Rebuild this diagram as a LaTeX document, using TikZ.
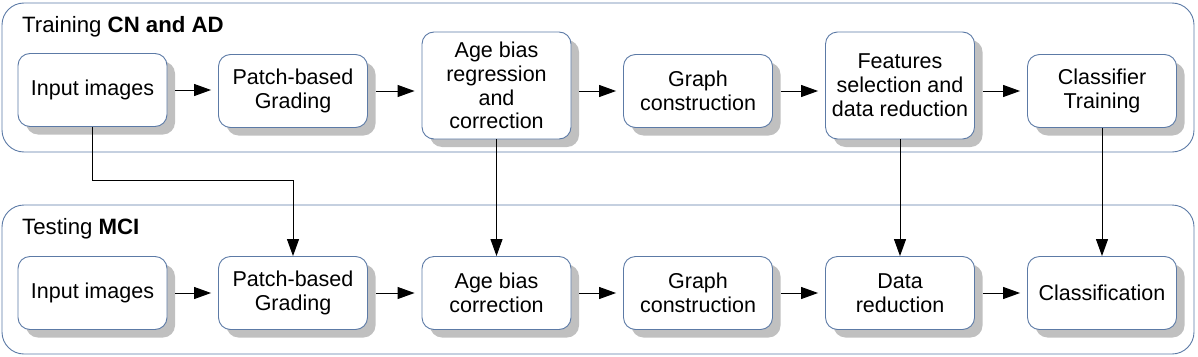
\documentclass[tikz,border=0pt]{standalone}
\usepackage{fontspec}
\setmainfont{Liberation Sans}
\usetikzlibrary{arrows.meta,shadows}
\definecolor{edgeblue}{RGB}{92,122,166}
\definecolor{shadowgray}{RGB}{192,192,192}
\tikzset{
  container/.style={draw=edgeblue, line width=0.9pt, rounded corners=22pt},
  stepbox/.style={draw=edgeblue, line width=0.9pt, rounded corners=12pt, fill=white,
    align=center, inner sep=0pt, minimum width=149pt,
    font=\fontsize{21.5}{23.8}\selectfont,
    drop shadow={shadow xshift=8pt, shadow yshift=-8pt, fill=shadowgray, opacity=1}},
  short/.style={minimum height=73pt},
  tall/.style={minimum height=107pt},
  arr/.style={line width=1pt, -{Triangle[length=17pt,width=12pt]}},
  harr/.style={arr, shorten <=8pt, shorten >=7pt},
  title/.style={anchor=base west, inner sep=0pt, font=\fontsize{22.2}{25}\selectfont}
}
\begin{document}
\begin{tikzpicture}[x=1pt,y=-1pt]
\useasboundingbox (0,0) rectangle (1198,356);
% containers
\draw[container] (2,3) rectangle (1194,152);
\draw[container] (2,205) rectangle (1194,354);
\node[title] (t1) at (22,32.5) {Training \textbf{CN and AD}};
\node[title] (t2) at (22,234.5) {Testing \textbf{MCI}};
% top row
\node[stepbox,short] (in1) at (92.5,90) {Input images};
\node[stepbox,short] (pg1) at (293,91) {Patch-based\\Grading};
\node[stepbox,tall]  (ab1) at (496.5,85.5) {Age bias\\regression\\and\\correction};
\node[stepbox,short] (gc1) at (698,91) {Graph\\construction};
\node[stepbox,tall]  (fs1) at (900,85.5) {Features\\selection and\\data reduction};
\node[stepbox,short] (ct1) at (1102,91) {Classifier\\Training};
% bottom row
\node[stepbox,short] (in2) at (92.5,293) {Input images};
\node[stepbox,short] (pg2) at (293,293) {Patch-based\\Grading};
\node[stepbox,short] (ab2) at (496.5,293) {Age bias\\correction};
\node[stepbox,short] (gc2) at (698,293) {Graph\\construction};
\node[stepbox,short] (dr2) at (900,293) {Data\\reduction};
\node[stepbox,short] (cl2) at (1102,293) {Classification};
% horizontal arrows top
\draw[harr] (in1.east) -- (in1.east -| pg1.west);
\draw[harr] (pg1.east) -- (pg1.east -| ab1.west);
\draw[harr] (ab1.east |- gc1.east) -- (gc1.west);
\draw[harr] (gc1.east) -- (gc1.east -| fs1.west);
\draw[harr] (fs1.east |- ct1.west) -- (ct1.west);
% horizontal arrows bottom
\draw[harr] (in2) -- (pg2);
\draw[harr] (pg2) -- (ab2);
\draw[harr] (ab2) -- (gc2);
\draw[harr] (gc2) -- (dr2);
\draw[harr] (dr2) -- (cl2);
% vertical connectors
\coordinate (bend) at (in1.south |- 0,180);
\draw[arr] (in1.south) -- (bend) -| (pg2.north);
\draw[arr] (ab1.south) -- (ab2.north);
\draw[arr] (fs1.south) -- (dr2.north);
\draw[arr] (ct1.south) -- (cl2.north);
\end{tikzpicture}
\end{document}
